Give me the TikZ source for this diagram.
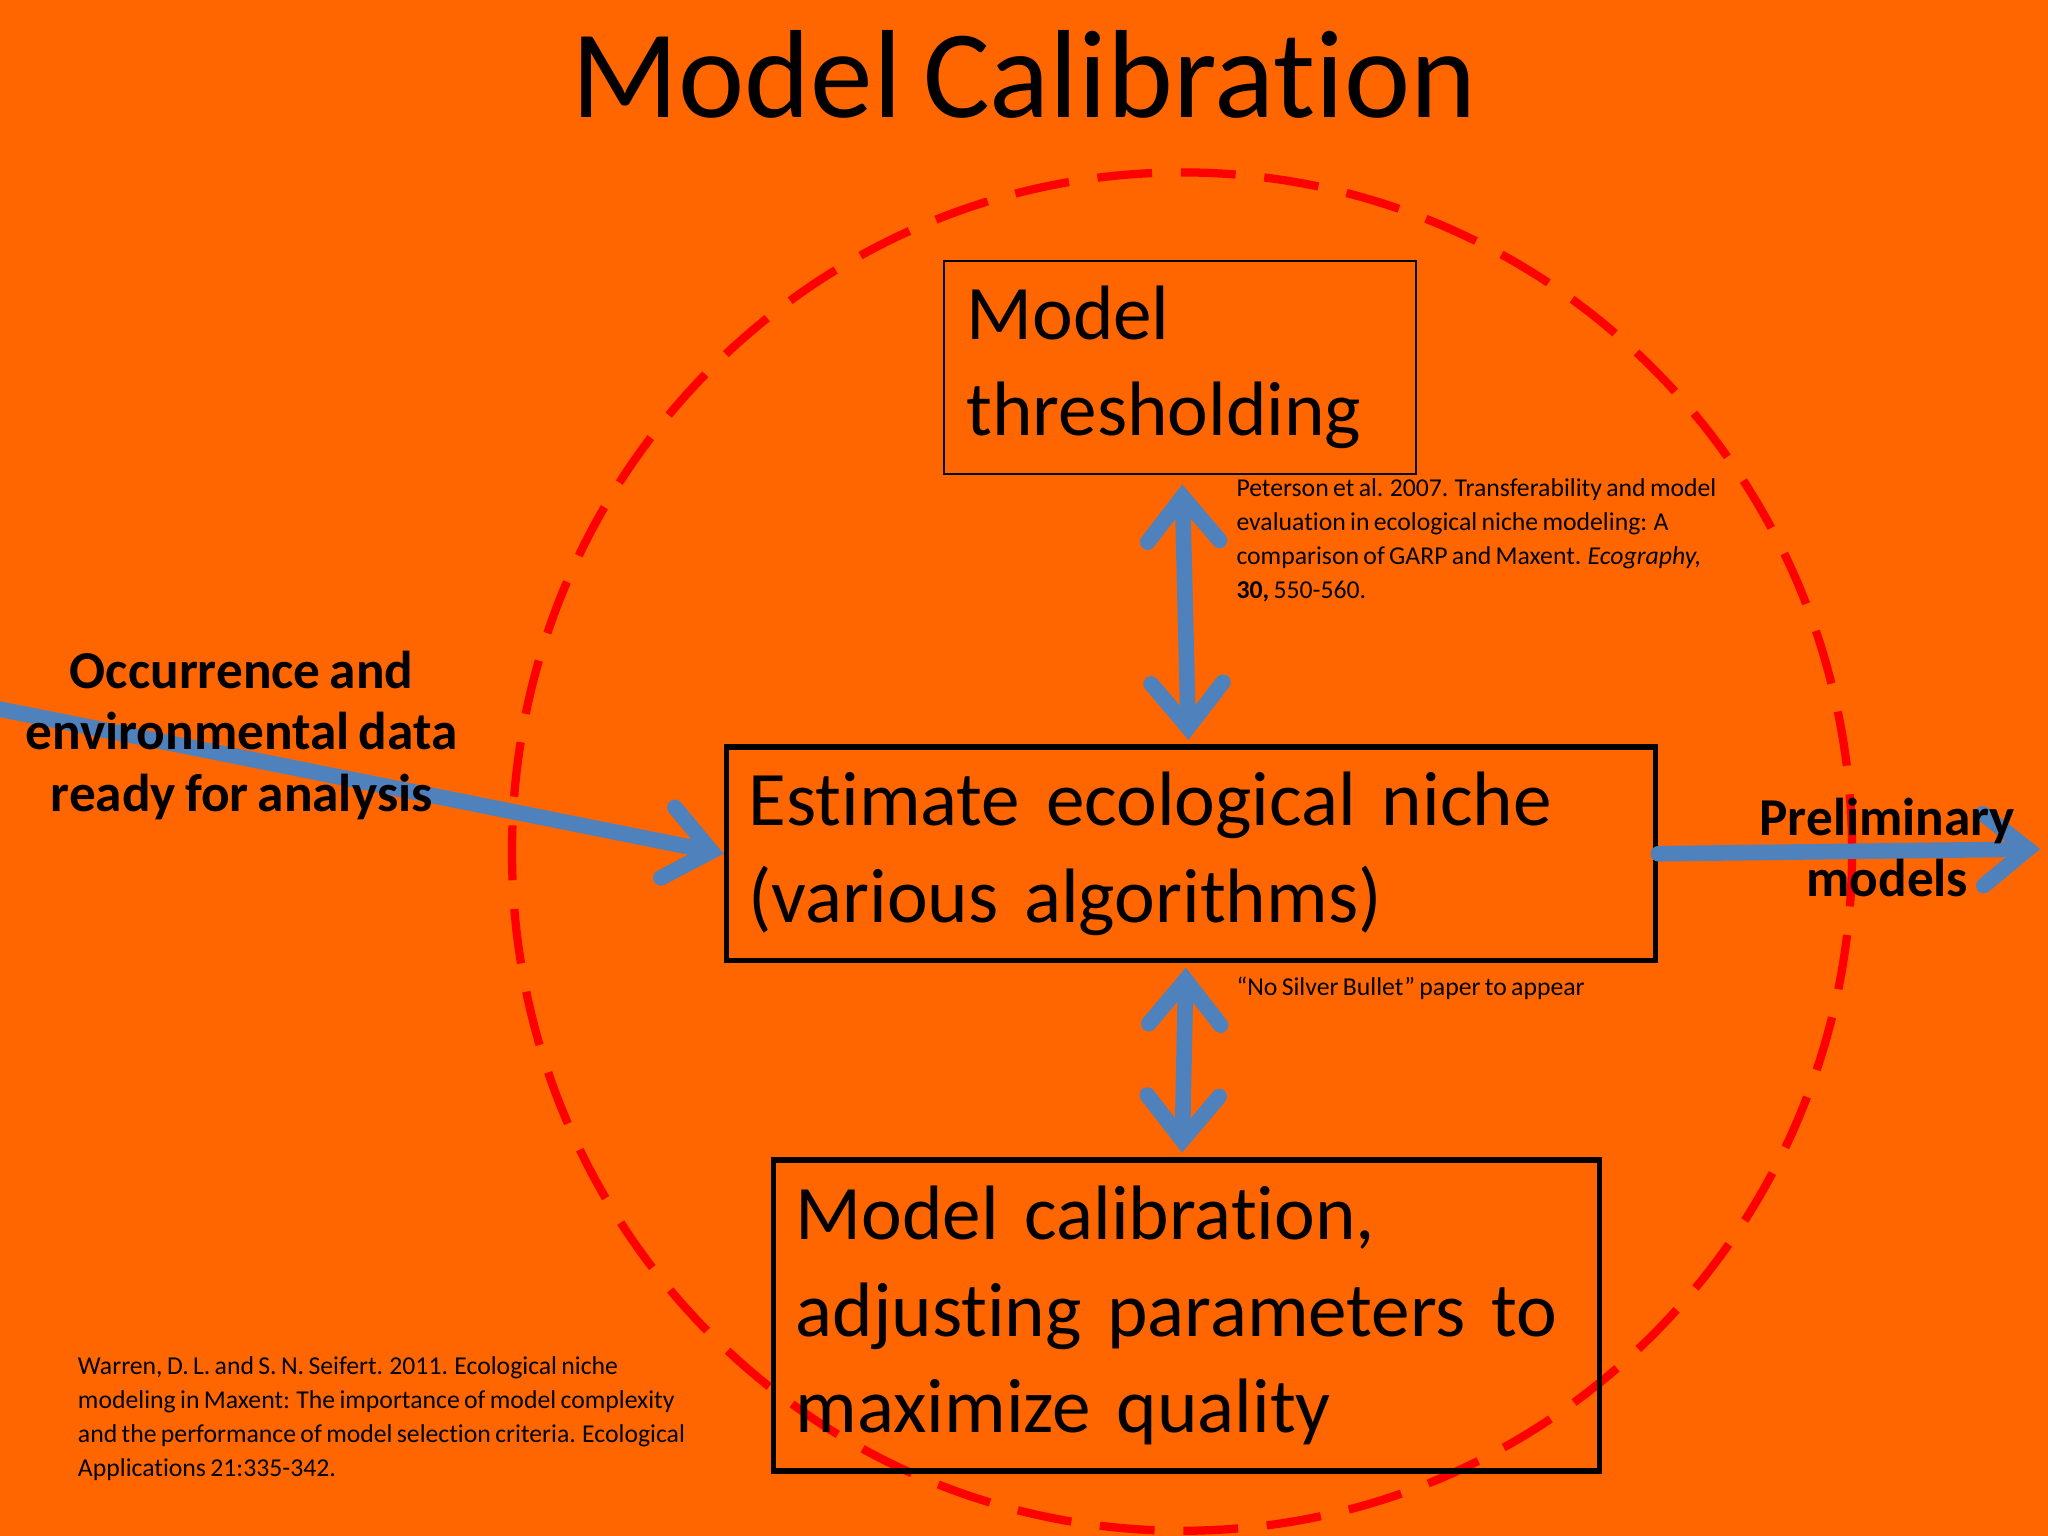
\documentclass[tikz,border=0pt]{standalone}
\usepackage{fontspec}
\setmainfont[RawFeature={-liga},WordSpace=0.75]{Carlito}
\usetikzlibrary{arrows.meta}
\definecolor{bg}{RGB}{255,102,0}
\definecolor{arrowblue}{RGB}{79,129,189}
\begin{document}
\begin{tikzpicture}[x=0.01cm,y=-0.01cm,
  boxstyle/.style={draw=black,line width=#1,align=left,anchor=north west,inner xsep=0.17cm,inner ysep=0pt,font=\fontsize{16.8}{21}\selectfont},
  bluearrow/.style={draw=arrowblue,line width=3.4pt,line cap=round},
  tipb/.tip={Straight Barb[length=0.34cm,width=0.55cm,line cap=round]},
  lbl/.style={align=center,font=\bfseries\fontsize{11.6}{13.4}\selectfont,inner sep=0pt},
  small/.style={align=left,anchor=north west,inner sep=0pt,font=\fontsize{5.6}{7.4}\selectfont}]
\fill[bg] (0,0) rectangle (1568,1176);
\useasboundingbox (0,0) rectangle (1568,1176);
\clip (0,0) rectangle (1568,1176);
\node[font=\fontsize{27.3}{30}\selectfont,anchor=base] (title) at (784,90) {Model Calibration};
\draw[red,line width=1.8pt,dash pattern=on 0.42cm off 0.22cm] (905,652) ellipse [x radius=513,y radius=520];
\node[boxstyle=0.5pt,minimum width=3.61cm,minimum height=1.63cm,text width=3.27cm] (thr) at (722,199) {Model\\thresholding};
\node[boxstyle=1.2pt,minimum width=7.11cm,minimum height=1.63cm,text width=6.77cm] (est) at (554,570) {Estimate ecological niche\\(various algorithms)};
\node[boxstyle=1.2pt,minimum width=6.32cm,minimum height=2.38cm,text width=5.98cm] (cal) at (590,886) {Model calibration,\\adjusting parameters to\\maximize quality};
\coordinate (in) at (-5,542);
\coordinate (out) at (1562,650);
\draw[bluearrow,{tipb}-{tipb},shorten <=2pt,shorten >=1pt] (thr.south -| 905,0) -- (est.north -| 910,0);
\draw[bluearrow,{tipb}-{tipb},shorten <=1pt,shorten >=1pt] (est.south -| 908,0) -- (cal.north -| 905,0);
\draw[bluearrow,-{tipb}] (in) -- (est.west);
\draw[bluearrow,-{tipb}] (est.east) -- (out);
\node[lbl] (occ) at (185,563) {Occurrence and\\environmental data\\ready for analysis};
\node[lbl] (pre) at (1445,649) {Preliminary\\models};
\node[small] (pet) at (946,366) {Peterson et al. 2007. Transferability and model\\evaluation in ecological niche modeling: A\\comparison of GARP and Maxent. \textit{Ecography,}\\\textbf{30,} 550-560.};
\node[small,anchor=base west] (nsb) at (946,762) {“No Silver Bullet” paper to appear};
\node[small] (war) at (59,1038) {Warren, D. L. and S. N. Seifert. 2011. Ecological niche\\modeling in Maxent: The importance of model complexity\\and the performance of model selection criteria. Ecological\\Applications 21:335-342.};
\end{tikzpicture}
\end{document}
